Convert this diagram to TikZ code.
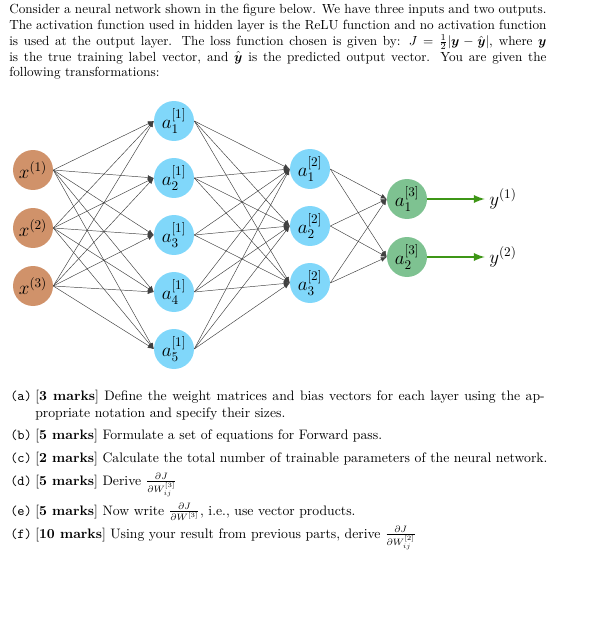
\documentclass[tikz,border=0pt]{standalone}
\usepackage{amsmath}
\usetikzlibrary{arrows.meta}
\definecolor{inpcol}{RGB}{208,146,106}
\definecolor{hidcol}{RGB}{128,215,250}
\definecolor{outcol}{RGB}{126,194,145}
\definecolor{arrcol}{RGB}{62,150,22}

\begin{document}
\begin{tikzpicture}[>=latex,x=0.7576pt,y=-0.7576pt,
  neuron/.style={circle,minimum size=30.3pt,inner sep=0pt,font=\Large},
  inp/.style={neuron,fill=inpcol},
  hid/.style={neuron,fill=hidcol},
  outp/.style={neuron,fill=outcol},
  wire/.style={-{Latex[length=4.5pt,width=3.6pt]},draw=black!75,line width=0.35pt},
  qfont/.style={font=\fontsize{10.4pt}{12.5pt}\selectfont},
  qlabel/.style={anchor=base west,inner sep=0pt,font=\fontsize{10.4pt}{12.5pt}\selectfont\ttfamily},
  qtext/.style={qfont,anchor=base west,inner sep=0pt}]
\useasboundingbox (0,0) rectangle (589,623);

% problem statement
\node[anchor=north west,inner sep=0pt,text width=407pt,align=justify] (intro) at (9,4) {Consider a neural network shown in the figure below. We have three inputs and two outputs.\linebreak
The activation function used in hidden layer is the ReLU function and no activation function\linebreak
is used at the output layer. The loss function chosen is given by: $J=\frac{1}{2}|\boldsymbol{y}-\hat{\boldsymbol{y}}|$, where $\boldsymbol{y}$\linebreak
is the true training label vector, and $\hat{\boldsymbol{y}}$ is the predicted output vector. You are given the\linebreak
following transformations:};

% network
\node[inp] (x1) at (33,170) {$x^{(1)}$};
\node[inp] (x2) at (33,228) {$x^{(2)}$};
\node[inp] (x3) at (33,286) {$x^{(3)}$};

\node[hid] (h1) at (174,121) {$a^{[1]}_1$};
\node[hid] (h2) at (174,178) {$a^{[1]}_2$};
\node[hid] (h3) at (174,235) {$a^{[1]}_3$};
\node[hid] (h4) at (174,292) {$a^{[1]}_4$};
\node[hid] (h5) at (174,349) {$a^{[1]}_5$};

\node[hid] (g1) at (310,169) {$a^{[2]}_1$};
\node[hid] (g2) at (310,226) {$a^{[2]}_2$};
\node[hid] (g3) at (310,283) {$a^{[2]}_3$};

\node[outp] (o1) at (407,199) {$a^{[3]}_1$};
\node[outp] (o2) at (407,257) {$a^{[3]}_2$};

\node (y1) at (503,199) {\Large $y^{(1)}$};
\node (y2) at (503,257) {\Large $y^{(2)}$};

\foreach \i in {1,2,3}
  \foreach \j in {1,...,5}
    \draw[wire] (x\i.east) -- (h\j.west);
\foreach \i in {1,...,5}
  \foreach \j in {1,2,3}
    \draw[wire] (h\i.east) -- (g\j.west);
\foreach \i in {1,2,3}
  \foreach \j in {1,2}
    \draw[wire] (g\i.east) -- (o\j.west);
\draw[->,arrcol,line width=1.8pt] (o1) -- (y1);
\draw[->,arrcol,line width=1.8pt] (o2) -- (y2);

% questions
\node[qlabel] (la) at (10,400) {(a)};
\node[qfont,anchor=north west,inner sep=0pt,text width=386pt,align=justify] (ta) at (35,390) {[\textbf{3 marks}] Define the weight matrices and bias vectors for each layer using the ap-\linebreak
propriate notation and specify their sizes.};
\node[qlabel] (lb) at (10,439) {(b)};
\node[qtext] (tb) at (35,439) {[\textbf{5 marks}] Formulate a set of equations for Forward pass.};
\node[qlabel] (lc) at (10,462) {(c)};
\node[qtext] (tc) at (35,462) {[\textbf{2 marks}] Calculate the total number of trainable parameters of the neural network.};
\node[qlabel] (ld) at (10,485) {(d)};
\node[qtext] (td) at (35,485) {[\textbf{5 marks}] Derive $\frac{\partial J}{\partial W^{[3]}_{ij}}$};
\node[qlabel] (le) at (10,515) {(e)};
\node[qtext] (te) at (35,515) {[\textbf{5 marks}] Now write $\frac{\partial J}{\partial W^{[3]}}$, i.e., use vector products.};
\node[qlabel] (lf) at (10,538) {(f)};
\node[qtext] (tf) at (35,538) {[\textbf{10 marks}] Using your result from previous parts, derive $\frac{\partial J}{\partial W^{[2]}_{ij}}$};
\end{tikzpicture}
\end{document}
